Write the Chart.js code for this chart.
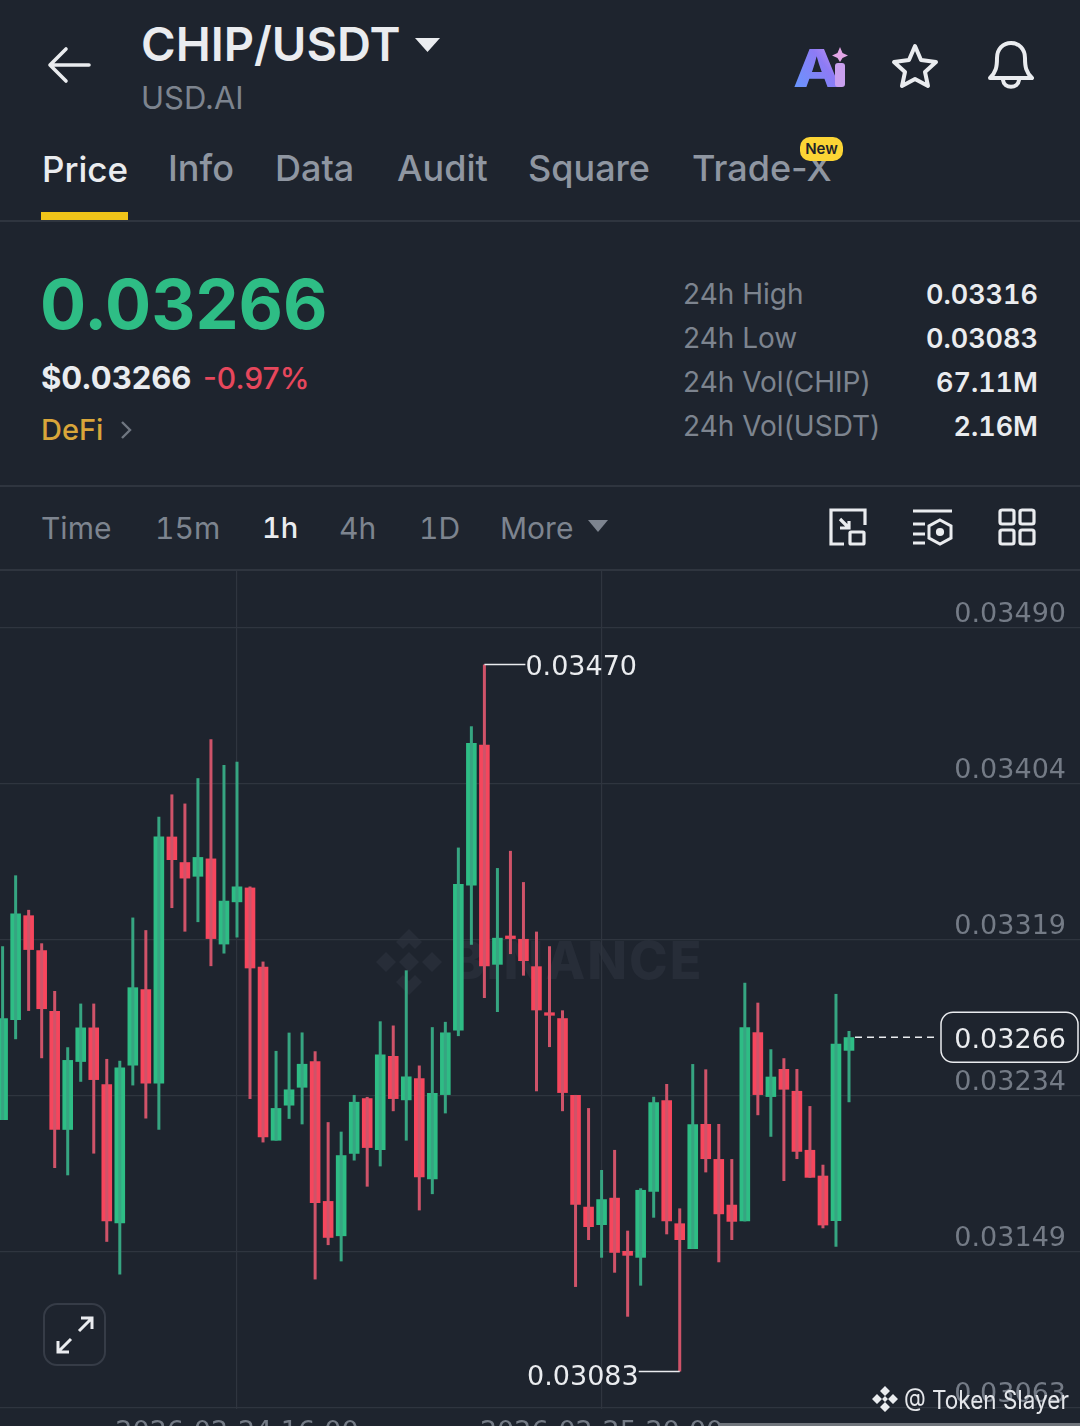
<!DOCTYPE html>
<html>
<head>
<meta charset="utf-8">
<title>CHIP/USDT</title>
<script src="https://cdn.jsdelivr.net/npm/chart.js@4"></script>
<style>
html, body { margin: 0; padding: 0; background: #1e242e; width: 1080px; height: 1426px; overflow: hidden; }
body { position: relative; font-family: Inter, "Noto Sans", sans-serif; color: #a0a6af; }
.t { position: absolute; transform: translateY(-50%); white-space: nowrap; line-height: 1.2; }
.tab { font-size: 36px; font-weight: 500; color: #8f96a1; }
.stat { font-size: 28px; color: #7d848f; }
.val { font-size: 27px; font-weight: 600; color: #eaecef; right: 42px; font-feature-settings: "tnum"; }
.tool { font-size: 30px; font-weight: 400; color: #7d848f; font-feature-settings: "tnum"; }
.sep { position: absolute; left: 0; width: 1080px; height: 1.5px; background: #2f353f; }
svg { position: absolute; overflow: visible; }
#chartBox { position: absolute; left: 0; top: 570px; width: 1080px; height: 880px; }
</style>
</head>
<body>

<svg style="left:48px;top:46px" width="42" height="38" fill="none" stroke="#eaecef" stroke-width="3.6" stroke-linecap="round" stroke-linejoin="round"><path d="M2 19H41M18 3L2 19L18 35"/></svg>
<span class="t" style="left:141px;top:44px;font-size:47px;font-weight:600;color:#eaecef">CHIP/USDT</span>
<svg style="left:415px;top:38px" width="25" height="14"><path d="M0 0H25L12.5 14Z" fill="#eaecef"/></svg>
<span class="t" style="left:141px;top:98px;font-size:31px;color:#7d848f">USD.AI</span>

<svg style="left:792px;top:44px" width="56" height="46">
  <defs><linearGradient id="aiGrad" x1="0" y1="1" x2="1" y2="0"><stop offset="0" stop-color="#5f9bff"/><stop offset="0.6" stop-color="#8d7bf5"/><stop offset="1" stop-color="#e0a0ea"/></linearGradient></defs>
  <text transform="translate(1,43) scale(1.2,1)" font-size="52" font-weight="800" fill="url(#aiGrad)" font-family="Inter">A</text>
  <rect x="43" y="19" width="10" height="24" rx="3" fill="#c9a0ee"/>
  <path d="M48 3L50.5 9L56 11.5L50.5 14L48 18L45.5 14L40 11.5L45.5 9Z" fill="#e2a6e6"/>
</svg>
<svg style="left:892px;top:44px" width="46" height="44" fill="none" stroke="#eaecef" stroke-width="4" stroke-linejoin="round"><path d="M23 2L29 16L44 18L33 28L36 42L23 35L10 42L13 28L2 18L17 16Z"/></svg>
<svg style="left:988px;top:41px" width="46" height="48" fill="none" stroke="#eaecef" stroke-width="4" stroke-linecap="round" stroke-linejoin="round"><path d="M2 37C8 31 9 26 9 17C9 8 15 2 23 2C31 2 37 8 37 17C37 26 38 31 44 37Z"/><path d="M15 39C16 48 30 48 31 39"/></svg>

<span class="t tab" style="left:42px;top:169px;color:#eaecef;font-size:35px">Price</span>
<span class="t tab" style="left:168px;top:169px">Info</span>
<span class="t tab" style="left:275px;top:169px">Data</span>
<span class="t tab" style="left:397px;top:169px">Audit</span>
<span class="t tab" style="left:528px;top:169px">Square</span>
<span class="t tab" style="left:692px;top:169px">Trade-X</span>
<span class="t" style="left:800px;top:149px;width:43px;height:24px;line-height:24px;border-radius:10px;background:#fcd535;color:#1e2329;font-size:15px;font-weight:600;text-align:center">New</span>
<div style="position:absolute;left:41px;top:212px;width:87px;height:8px;background:#f0c419"></div>
<div class="sep" style="top:220px"></div>

<span class="t" style="left:40px;top:305px;font-size:68.5px;font-weight:700;color:#2ebd85">0.03266</span>
<span class="t" style="left:41px;top:378px;font-size:31px;font-weight:700;color:#eaecef">$0.03266</span>
<span class="t" style="left:203px;top:378px;font-size:30px;font-weight:500;color:#e6475c">-0.97%</span>
<span class="t" style="left:41px;top:430px;font-size:29px;font-weight:500;color:#d9a63a">DeFi</span>
<svg style="left:120px;top:420px" width="12" height="20" fill="none" stroke="#6f7680" stroke-width="2.4"><path d="M2 2L10 10L2 18"/></svg>

<span class="t stat" style="left:683px;top:295px">24h High</span>
<span class="t stat" style="left:683px;top:339px">24h Low</span>
<span class="t stat" style="left:683px;top:383px">24h Vol(CHIP)</span>
<span class="t stat" style="left:683px;top:427px">24h Vol(USDT)</span>
<span class="t val" style="top:295px">0.03316</span>
<span class="t val" style="top:339px">0.03083</span>
<span class="t val" style="top:383px">67.11M</span>
<span class="t val" style="top:427px">2.16M</span>
<div class="sep" style="top:485px"></div>

<span class="t tool" style="left:41px;top:528px">Time</span>
<span class="t tool" style="left:155px;top:528px">15m</span>
<span class="t tool" style="left:262px;top:528px;color:#eaecef;font-weight:500;font-size:29px">1h</span>
<span class="t tool" style="left:339px;top:528px">4h</span>
<span class="t tool" style="left:419px;top:528px">1D</span>
<span class="t tool" style="left:500px;top:528px">More</span>
<svg style="left:588px;top:520px" width="20" height="12"><path d="M0 0H20L10 12Z" fill="#7d848f"/></svg>

<svg style="left:829px;top:508px" width="38" height="38" fill="none" stroke="#eaecef" stroke-width="3.2"><path d="M15 36H2V2H36V17"/><rect x="21" y="24" width="14" height="12" rx="1"/><path d="M11 11L20 20M11 20H20V13"/></svg>
<svg style="left:912px;top:508px" width="40" height="38" fill="none" stroke="#eaecef" stroke-width="3"><path d="M1 3H40M1 16H13M1 26H13M1 35H13"/><path d="M28 12L39 18V30L28 36L17 30V18Z"/><circle cx="28" cy="24" r="2.6" fill="#eaecef"/></svg>
<svg style="left:999px;top:508px" width="38" height="38" fill="none" stroke="#eaecef" stroke-width="3.2"><rect x="1" y="2" width="14" height="14" rx="2"/><rect x="21" y="2" width="14" height="14" rx="2"/><rect x="1" y="22" width="14" height="14" rx="2"/><rect x="21" y="22" width="14" height="14" rx="2"/></svg>
<div class="sep" style="top:569px"></div>

<svg style="left:376px;top:929px" width="66" height="66" fill="#272d38"><path d="M33 0L46 13L39 20L33 14L27 20L20 13ZM10 23L20 33L10 43L0 33ZM56 23L66 33L56 43L46 33ZM33 23L43 33L33 43L23 33ZM20 53L27 46L33 52L39 46L46 53L33 66Z"/></svg>
<span class="t" style="left:450px;top:961px;font-size:52px;font-weight:800;letter-spacing:2px;color:#272d38">BINANCE</span>

<div id="chartBox"><canvas id="myChart" width="1080" height="880"></canvas></div>

<div style="position:absolute;left:43px;top:1303px;width:59px;height:59px;border:2.5px solid #363c47;border-radius:14px;background:#1e242e"></div>
<svg style="left:56px;top:1316px" width="38" height="38" fill="none" stroke="#eaecef" stroke-width="3"><path d="M23 15L36 2M25 2H36V13M15 23L2 36M2 25V36H13"/></svg>

<svg style="left:872px;top:1386px" width="26" height="26" fill="#eaecef"><path d="M13 0L18 5L13 10L8 5ZM5 8L10 13L5 18L0 13ZM21 8L26 13L21 18L16 13ZM13 10L16 13L13 16L10 13ZM13 16L18 21L13 26L8 21Z"/></svg>
<span class="t" style="left:904px;top:1400px;font-size:25px;color:#e4e6ea;transform-origin:left center;transform:translateY(-50%) scaleX(0.9)">@ Token Slayer</span>
<div style="position:absolute;left:720px;top:1423px;width:360px;height:3px;background:#70757c"></div>

<script>
// hourly candles, index 0 = 2026-02-23 22:00
let times = [
  "2026-02-23 22:00", "2026-02-23 23:00",
  "2026-02-24 00:00", "2026-02-24 01:00", "2026-02-24 02:00", "2026-02-24 03:00", "2026-02-24 04:00", "2026-02-24 05:00",
  "2026-02-24 06:00", "2026-02-24 07:00", "2026-02-24 08:00", "2026-02-24 09:00", "2026-02-24 10:00", "2026-02-24 11:00",
  "2026-02-24 12:00", "2026-02-24 13:00", "2026-02-24 14:00", "2026-02-24 15:00", "2026-02-24 16:00", "2026-02-24 17:00",
  "2026-02-24 18:00", "2026-02-24 19:00", "2026-02-24 20:00", "2026-02-24 21:00", "2026-02-24 22:00", "2026-02-24 23:00",
  "2026-02-25 00:00", "2026-02-25 01:00", "2026-02-25 02:00", "2026-02-25 03:00", "2026-02-25 04:00", "2026-02-25 05:00",
  "2026-02-25 06:00", "2026-02-25 07:00", "2026-02-25 08:00", "2026-02-25 09:00", "2026-02-25 10:00", "2026-02-25 11:00",
  "2026-02-25 12:00", "2026-02-25 13:00", "2026-02-25 14:00", "2026-02-25 15:00", "2026-02-25 16:00", "2026-02-25 17:00",
  "2026-02-25 18:00", "2026-02-25 19:00", "2026-02-25 20:00", "2026-02-25 21:00", "2026-02-25 22:00", "2026-02-25 23:00",
  "2026-02-26 00:00", "2026-02-26 01:00", "2026-02-26 02:00", "2026-02-26 03:00", "2026-02-26 04:00", "2026-02-26 05:00",
  "2026-02-26 06:00", "2026-02-26 07:00", "2026-02-26 08:00", "2026-02-26 09:00", "2026-02-26 10:00", "2026-02-26 11:00",
  "2026-02-26 12:00", "2026-02-26 13:00", "2026-02-26 14:00", "2026-02-26 15:00"
];

let opens = [
  0.032207, 0.032754, 0.033327, 0.033136, 0.032804, 0.032153, 0.032525, 0.032713, 0.032402, 0.031641, 0.032505,
  0.032923, 0.032406, 0.033758, 0.033618, 0.033539, 0.033638, 0.033168, 0.033399, 0.033479, 0.033045, 0.032094,
  0.032286, 0.032384, 0.032528, 0.031763, 0.031571, 0.032022, 0.032326, 0.032043, 0.032557, 0.032315, 0.032436,
  0.031882, 0.032344, 0.032697, 0.033490, 0.034261, 0.033057, 0.033216, 0.033198, 0.033048, 0.032796, 0.032764,
  0.032344, 0.031732, 0.031632, 0.031781, 0.031490, 0.031453, 0.031814, 0.032315, 0.031641, 0.031501, 0.032185,
  0.031993, 0.031743, 0.031652, 0.032687, 0.032333, 0.032486, 0.032366, 0.032043, 0.031902, 0.031654, 0.032586
];
let highs = [
  0.033158, 0.033546, 0.033357, 0.033174, 0.032913, 0.032605, 0.032844, 0.032844, 0.032541, 0.032531, 0.033315,
  0.033246, 0.033867, 0.033989, 0.033939, 0.034078, 0.034291, 0.034150, 0.034168, 0.033485, 0.033074, 0.032585,
  0.032685, 0.032686, 0.032583, 0.032195, 0.032143, 0.032344, 0.032333, 0.032747, 0.032724, 0.033026, 0.032505,
  0.032715, 0.032744, 0.033698, 0.034362, 0.034700, 0.033586, 0.033680, 0.033509, 0.033238, 0.033158, 0.032807,
  0.032344, 0.032272, 0.031933, 0.032043, 0.031601, 0.031833, 0.032334, 0.032404, 0.031723, 0.032513, 0.032484,
  0.032185, 0.031993, 0.032958, 0.032849, 0.032594, 0.032545, 0.032486, 0.032283, 0.031962, 0.032897, 0.032694
];
let lows = [
  0.032207, 0.032649, 0.032804, 0.032545, 0.031944, 0.031904, 0.032416, 0.032023, 0.031540, 0.031361, 0.032396,
  0.032215, 0.032153, 0.033367, 0.033238, 0.033290, 0.033049, 0.033118, 0.033206, 0.032322, 0.032084, 0.032094,
  0.032213, 0.032183, 0.031334, 0.031522, 0.031433, 0.031985, 0.031842, 0.031953, 0.032255, 0.032094, 0.031712,
  0.031801, 0.032243, 0.032666, 0.033166, 0.032874, 0.032798, 0.033115, 0.032997, 0.032364, 0.032606, 0.032255,
  0.031293, 0.031550, 0.031453, 0.031371, 0.031130, 0.031300, 0.031672, 0.031581, 0.030830, 0.031501, 0.031920,
  0.031428, 0.031550, 0.031652, 0.032233, 0.032115, 0.031873, 0.031993, 0.031891, 0.031614, 0.031513, 0.032304
];
let closes = [
  0.032764, 0.033337, 0.033138, 0.032814, 0.032153, 0.032535, 0.032713, 0.032426, 0.031653, 0.032494, 0.032933,
  0.032406, 0.033758, 0.033630, 0.033529, 0.033646, 0.033198, 0.033407, 0.033485, 0.033037, 0.032113, 0.032272,
  0.032374, 0.032514, 0.031752, 0.031562, 0.032014, 0.032306, 0.032054, 0.032565, 0.032322, 0.032445, 0.031893,
  0.032355, 0.032686, 0.033499, 0.034270, 0.033048, 0.033204, 0.033198, 0.033077, 0.032807, 0.032778, 0.032355,
  0.031743, 0.031621, 0.031773, 0.031480, 0.031464, 0.031824, 0.032304, 0.031652, 0.031550, 0.032183, 0.031993,
  0.031691, 0.031650, 0.032714, 0.032344, 0.032444, 0.032373, 0.032033, 0.031891, 0.031630, 0.032624, 0.032660
];

// ticks sit at an even step, the labels are the ones printed on the app
let priceTicks = [0.034900, 0.034046, 0.033192, 0.032338, 0.031484, 0.030630];
let priceLabels = ["0.03490", "0.03404", "0.03319", "0.03234", "0.03149", "0.03063"];
let timeTicks = ["2026-02-24 16:00", "2026-02-25 20:00"];
let highLabel = "0.03470";
let lowLabel = "0.03083";
let lastLabel = "0.03266";

let upBody = '#2ebd85';
let downBody = '#f6465d';
let upWick = '#36a581';
let downWick = '#cf5369';
let gridColor = '#2f353f';
let tickColor = '#747b86';

function isUp(i) {
    return closes[i] >= opens[i];
}

let wickData = times.map((t, i) => ({ x: i, y: [lows[i], highs[i]] }));
let bodyData = times.map((t, i) => ({ x: i, y: [opens[i], closes[i]] }));

// scales must not reserve room for their own labels here
function noPadding(axis) {
    axis.paddingTop = 0;
    axis.paddingBottom = 0;
    axis.paddingLeft = 0;
    axis.paddingRight = 0;
}

// the high, low and last price callouts
let calloutPlugin = {
    id: 'callouts',
    afterDatasetsDraw(chart) {
        let ctx = chart.ctx;
        let xs = chart.scales.x;
        let ys = chart.scales.y;
        ctx.save();
        ctx.font = '27px "DejaVu Sans"';
        ctx.fillStyle = '#eaecef';
        ctx.strokeStyle = '#eaecef';
        ctx.textBaseline = 'middle';

        let hi = highs.indexOf(Math.max(...highs));
        let hx = xs.getPixelForValue(hi);
        let hy = ys.getPixelForValue(highs[hi]);
        ctx.lineWidth = 1.5;
        ctx.beginPath();
        ctx.moveTo(hx, hy);
        ctx.lineTo(hx + 41, hy);
        ctx.stroke();
        ctx.textAlign = 'left';
        ctx.fillText(highLabel, hx + 41, hy + 3);

        let lo = lows.indexOf(Math.min(...lows));
        let lx = xs.getPixelForValue(lo);
        let ly = ys.getPixelForValue(lows[lo]);
        ctx.beginPath();
        ctx.moveTo(lx, ly);
        ctx.lineTo(lx - 41, ly);
        ctx.stroke();
        ctx.textAlign = 'right';
        ctx.fillText(lowLabel, lx - 41, ly + 6);

        let end = times.length - 1;
        let ex = xs.getPixelForValue(end);
        let ey = ys.getPixelForValue(closes[end]);
        ctx.setLineDash([7, 5]);
        ctx.beginPath();
        ctx.moveTo(ex + 6, ey);
        ctx.lineTo(938, ey);
        ctx.stroke();
        ctx.setLineDash([]);
        ctx.beginPath();
        ctx.roundRect(941, ey - 25, 137, 50, 12);
        ctx.fillStyle = '#1e242e';
        ctx.fill();
        ctx.stroke();
        ctx.fillStyle = '#eaecef';
        ctx.textAlign = 'right';
        ctx.fillText(lastLabel, 1066, ey + 4);
        ctx.restore();
    }
};

let myChart = document.getElementById("myChart").getContext('2d');

let chart1 = new Chart(myChart, {
    type: 'bar',
    data: {
        datasets: [{
            data: wickData,
            grouped: false,
            barThickness: 3,
            inflateAmount: 0,
            backgroundColor: times.map((t, i) => isUp(i) ? upWick : downWick)
        }, {
            data: bodyData,
            grouped: false,
            barThickness: 10.6,
            inflateAmount: 0,
            backgroundColor: times.map((t, i) => isUp(i) ? upBody : downBody)
        }]
    },
    options: {
        responsive: false,
        animation: false,
        devicePixelRatio: 1,
        layout: { padding: 0, autoPadding: false },
        plugins: {
            legend: { display: false },
            tooltip: { enabled: false }
        },
        scales: {
            x: {
                type: 'linear',
                offset: false,
                min: -0.2,
                max: 82.74,
                afterBuildTicks(axis) {
                    axis.ticks = timeTicks.map(t => ({ value: times.indexOf(t) }));
                },
                afterFit(axis) {
                    axis.height = 41;
                    noPadding(axis);
                },
                border: { display: false },
                grid: { offset: false, color: gridColor, lineWidth: 1.2, drawTicks: false },
                ticks: {
                    autoSkip: false,
                    maxRotation: 0,
                    padding: 8,
                    color: tickColor,
                    font: { family: 'DejaVu Sans', size: 27 },
                    callback: value => times[value]
                }
            },
            y: {
                position: 'right',
                min: 0.0306248,
                max: 0.0352175,
                afterBuildTicks(axis) {
                    axis.ticks = priceTicks.map(v => ({ value: v }));
                },
                afterFit(axis) {
                    axis.width = 0;
                    noPadding(axis);
                },
                border: { display: false },
                grid: { color: gridColor, lineWidth: 1.2, drawTicks: false },
                ticks: {
                    mirror: true,
                    autoSkip: false,
                    padding: -14,
                    labelOffset: -13,
                    color: tickColor,
                    font: { family: 'DejaVu Sans', size: 27 },
                    callback: (value, i) => priceLabels[i]
                }
            }
        }
    },
    plugins: [calloutPlugin]
});
</script>
</body>
</html>
